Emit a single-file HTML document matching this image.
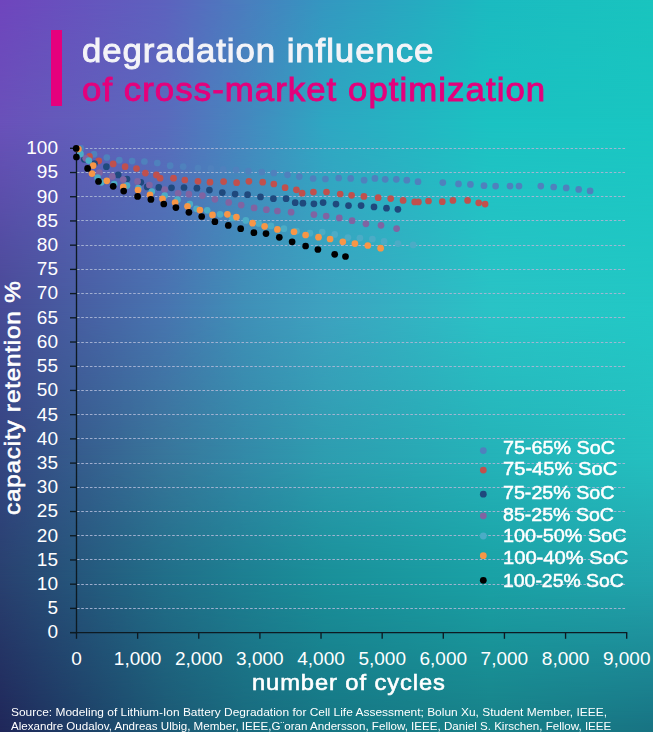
<!DOCTYPE html>
<html><head><meta charset="utf-8">
<style>
html,body{margin:0;padding:0;}
body{width:653px;height:732px;position:relative;overflow:hidden;font-family:"Liberation Sans",sans-serif;}
.bg{position:absolute;left:0;top:0;width:653px;height:732px;}
.bar{position:absolute;left:51px;top:30px;width:11px;height:76px;background:#e5007d;}
.t1,.t2{position:absolute;left:82px;font-weight:normal;font-size:32.5px;line-height:40px;white-space:nowrap;transform-origin:0 0;transform:scaleX(1.07);letter-spacing:0.88px;-webkit-text-stroke:0.9px currentColor;}
.t1{top:30.9px;color:#f4f4f8;}
.t2{top:70.1px;color:#e4007c;}
svg{position:absolute;left:0;top:0;}
.yl{position:absolute;left:10px;width:48px;text-align:right;color:#fff;font-size:19px;line-height:21px;}
.xl{position:absolute;top:648.3px;width:80px;text-align:center;color:#fff;font-size:19px;line-height:21px;}
.xt{position:absolute;left:251.5px;top:668.6px;color:#fff;font-weight:normal;-webkit-text-stroke:0.6px #fff;font-size:22.5px;letter-spacing:0.85px;line-height:28px;white-space:nowrap;transform-origin:0 0;}
.yt{position:absolute;left:0;top:0;color:#fff;font-weight:normal;-webkit-text-stroke:0.6px #fff;font-size:22.5px;letter-spacing:0.85px;line-height:28px;white-space:nowrap;transform-origin:0 0;}
.lg{position:absolute;left:503px;color:#fff;font-weight:normal;-webkit-text-stroke:0.5px #fff;font-size:19px;line-height:21px;white-space:nowrap;transform-origin:0 0;}
.src{position:absolute;left:11px;color:#fff;font-size:11.3px;line-height:14px;white-space:nowrap;transform-origin:0 0;}
</style></head><body>
<div class="bg" style="background:linear-gradient(to right, #20275a 0.00%, #1c5874 25.27%, #196a7e 37.52%, #167684 49.77%, #188088 75.04%, #187383 100.00%)"></div>
<div class="bg" style="background:linear-gradient(to right, #294170 0.00%, #216f89 25.27%, #1d8092 37.52%, #1a909a 49.77%, #1aa2a6 75.04%, #22a5ad 100.00%);-webkit-mask-image:linear-gradient(to bottom, #000 78.55%, transparent 100.00%);mask-image:linear-gradient(to bottom, #000 78.55%, transparent 100.00%)"></div>
<div class="bg" style="background:linear-gradient(to right, #344581 0.00%, #38769b 25.27%, #338aa8 37.52%, #2e9db0 49.77%, #25b3b9 75.04%, #24c0c0 100.00%);-webkit-mask-image:linear-gradient(to bottom, #000 62.16%, transparent 78.55%);mask-image:linear-gradient(to bottom, #000 62.16%, transparent 78.55%)"></div>
<div class="bg" style="background:linear-gradient(to right, #484b97 0.00%, #4874b0 25.27%, #4090b8 37.52%, #3ea2c0 49.77%, #2ac3c6 75.04%, #22c8c5 100.00%);-webkit-mask-image:linear-gradient(to bottom, #000 41.67%, transparent 62.16%);mask-image:linear-gradient(to bottom, #000 41.67%, transparent 62.16%)"></div>
<div class="bg" style="background:linear-gradient(to right, #6a51ba 0.00%, #5a6bbd 25.27%, #4588bf 37.52%, #2ea7c2 49.77%, #1bc2c2 75.04%, #19c6c2 100.00%);-webkit-mask-image:linear-gradient(to bottom, #000 16.39%, transparent 41.67%);mask-image:linear-gradient(to bottom, #000 16.39%, transparent 41.67%)"></div>
<div class="bg" style="background:linear-gradient(to right, #6f45bd 0.00%, #5d62be 25.27%, #4a7dbe 37.52%, #3497c0 49.77%, #1bbac0 75.04%, #19c4be 100.00%);-webkit-mask-image:linear-gradient(to bottom, #000 0.00%, transparent 16.39%);mask-image:linear-gradient(to bottom, #000 0.00%, transparent 16.39%)"></div>
<div class="bar"></div>
<div class="t1" id="t1">degradation influence</div>
<div class="t2" id="t2" style="letter-spacing:0.98px">of cross-market optimization</div>
<svg width="653" height="732" viewBox="0 0 653 732">
<line x1="76.9" y1="608.50" x2="625.9" y2="608.50" stroke="#a9b5d5" stroke-opacity="0.92" stroke-width="1" stroke-dasharray="2.6 1.73"/>
<line x1="76.9" y1="584.50" x2="625.9" y2="584.50" stroke="#a9b5d5" stroke-opacity="0.92" stroke-width="1" stroke-dasharray="2.6 1.73"/>
<line x1="76.9" y1="559.50" x2="625.9" y2="559.50" stroke="#a9b5d5" stroke-opacity="0.92" stroke-width="1" stroke-dasharray="2.6 1.73"/>
<line x1="76.9" y1="535.50" x2="625.9" y2="535.50" stroke="#a9b5d5" stroke-opacity="0.92" stroke-width="1" stroke-dasharray="2.6 1.73"/>
<line x1="76.9" y1="511.50" x2="625.9" y2="511.50" stroke="#a9b5d5" stroke-opacity="0.92" stroke-width="1" stroke-dasharray="2.6 1.73"/>
<line x1="76.9" y1="487.50" x2="625.9" y2="487.50" stroke="#a9b5d5" stroke-opacity="0.92" stroke-width="1" stroke-dasharray="2.6 1.73"/>
<line x1="76.9" y1="463.50" x2="625.9" y2="463.50" stroke="#a9b5d5" stroke-opacity="0.92" stroke-width="1" stroke-dasharray="2.6 1.73"/>
<line x1="76.9" y1="438.50" x2="625.9" y2="438.50" stroke="#a9b5d5" stroke-opacity="0.92" stroke-width="1" stroke-dasharray="2.6 1.73"/>
<line x1="76.9" y1="414.50" x2="625.9" y2="414.50" stroke="#a9b5d5" stroke-opacity="0.92" stroke-width="1" stroke-dasharray="2.6 1.73"/>
<line x1="76.9" y1="390.50" x2="625.9" y2="390.50" stroke="#a9b5d5" stroke-opacity="0.92" stroke-width="1" stroke-dasharray="2.6 1.73"/>
<line x1="76.9" y1="366.50" x2="625.9" y2="366.50" stroke="#a9b5d5" stroke-opacity="0.92" stroke-width="1" stroke-dasharray="2.6 1.73"/>
<line x1="76.9" y1="342.50" x2="625.9" y2="342.50" stroke="#a9b5d5" stroke-opacity="0.92" stroke-width="1" stroke-dasharray="2.6 1.73"/>
<line x1="76.9" y1="317.50" x2="625.9" y2="317.50" stroke="#a9b5d5" stroke-opacity="0.92" stroke-width="1" stroke-dasharray="2.6 1.73"/>
<line x1="76.9" y1="293.50" x2="625.9" y2="293.50" stroke="#a9b5d5" stroke-opacity="0.92" stroke-width="1" stroke-dasharray="2.6 1.73"/>
<line x1="76.9" y1="269.50" x2="625.9" y2="269.50" stroke="#a9b5d5" stroke-opacity="0.92" stroke-width="1" stroke-dasharray="2.6 1.73"/>
<line x1="76.9" y1="245.50" x2="625.9" y2="245.50" stroke="#a9b5d5" stroke-opacity="0.92" stroke-width="1" stroke-dasharray="2.6 1.73"/>
<line x1="76.9" y1="220.50" x2="625.9" y2="220.50" stroke="#a9b5d5" stroke-opacity="0.92" stroke-width="1" stroke-dasharray="2.6 1.73"/>
<line x1="76.9" y1="196.50" x2="625.9" y2="196.50" stroke="#a9b5d5" stroke-opacity="0.92" stroke-width="1" stroke-dasharray="2.6 1.73"/>
<line x1="76.9" y1="172.50" x2="625.9" y2="172.50" stroke="#a9b5d5" stroke-opacity="0.92" stroke-width="1" stroke-dasharray="2.6 1.73"/>
<line x1="76.9" y1="148.50" x2="625.9" y2="148.50" stroke="#a9b5d5" stroke-opacity="0.92" stroke-width="1" stroke-dasharray="2.6 1.73"/>
<line x1="76.5" y1="147.80" x2="76.5" y2="633.30" stroke="#0d1a22" stroke-width="1.35"/>
<line x1="70" y1="632.60" x2="627.2" y2="632.60" stroke="#0d1a22" stroke-width="1.35"/>
<line x1="70" y1="632.60" x2="76.5" y2="632.60" stroke="#0d1a22" stroke-width="1.35"/>
<line x1="70" y1="608.38" x2="76.5" y2="608.38" stroke="#0d1a22" stroke-width="1.35"/>
<line x1="70" y1="584.17" x2="76.5" y2="584.17" stroke="#0d1a22" stroke-width="1.35"/>
<line x1="70" y1="559.96" x2="76.5" y2="559.96" stroke="#0d1a22" stroke-width="1.35"/>
<line x1="70" y1="535.74" x2="76.5" y2="535.74" stroke="#0d1a22" stroke-width="1.35"/>
<line x1="70" y1="511.53" x2="76.5" y2="511.53" stroke="#0d1a22" stroke-width="1.35"/>
<line x1="70" y1="487.31" x2="76.5" y2="487.31" stroke="#0d1a22" stroke-width="1.35"/>
<line x1="70" y1="463.10" x2="76.5" y2="463.10" stroke="#0d1a22" stroke-width="1.35"/>
<line x1="70" y1="438.88" x2="76.5" y2="438.88" stroke="#0d1a22" stroke-width="1.35"/>
<line x1="70" y1="414.67" x2="76.5" y2="414.67" stroke="#0d1a22" stroke-width="1.35"/>
<line x1="70" y1="390.45" x2="76.5" y2="390.45" stroke="#0d1a22" stroke-width="1.35"/>
<line x1="70" y1="366.24" x2="76.5" y2="366.24" stroke="#0d1a22" stroke-width="1.35"/>
<line x1="70" y1="342.02" x2="76.5" y2="342.02" stroke="#0d1a22" stroke-width="1.35"/>
<line x1="70" y1="317.81" x2="76.5" y2="317.81" stroke="#0d1a22" stroke-width="1.35"/>
<line x1="70" y1="293.59" x2="76.5" y2="293.59" stroke="#0d1a22" stroke-width="1.35"/>
<line x1="70" y1="269.38" x2="76.5" y2="269.38" stroke="#0d1a22" stroke-width="1.35"/>
<line x1="70" y1="245.16" x2="76.5" y2="245.16" stroke="#0d1a22" stroke-width="1.35"/>
<line x1="70" y1="220.95" x2="76.5" y2="220.95" stroke="#0d1a22" stroke-width="1.35"/>
<line x1="70" y1="196.73" x2="76.5" y2="196.73" stroke="#0d1a22" stroke-width="1.35"/>
<line x1="70" y1="172.52" x2="76.5" y2="172.52" stroke="#0d1a22" stroke-width="1.35"/>
<line x1="70" y1="148.30" x2="76.5" y2="148.30" stroke="#0d1a22" stroke-width="1.35"/>
<line x1="76.50" y1="632.60" x2="76.50" y2="638.8" stroke="#0d1a22" stroke-width="1.35"/>
<line x1="137.63" y1="632.60" x2="137.63" y2="638.8" stroke="#0d1a22" stroke-width="1.35"/>
<line x1="198.77" y1="632.60" x2="198.77" y2="638.8" stroke="#0d1a22" stroke-width="1.35"/>
<line x1="259.90" y1="632.60" x2="259.90" y2="638.8" stroke="#0d1a22" stroke-width="1.35"/>
<line x1="321.03" y1="632.60" x2="321.03" y2="638.8" stroke="#0d1a22" stroke-width="1.35"/>
<line x1="382.17" y1="632.60" x2="382.17" y2="638.8" stroke="#0d1a22" stroke-width="1.35"/>
<line x1="443.30" y1="632.60" x2="443.30" y2="638.8" stroke="#0d1a22" stroke-width="1.35"/>
<line x1="504.43" y1="632.60" x2="504.43" y2="638.8" stroke="#0d1a22" stroke-width="1.35"/>
<line x1="565.57" y1="632.60" x2="565.57" y2="638.8" stroke="#0d1a22" stroke-width="1.35"/>
<line x1="626.70" y1="632.60" x2="626.70" y2="638.8" stroke="#0d1a22" stroke-width="1.35"/>
<g fill="#4f81bd"><circle cx="80.8" cy="148.4" r="3.35"/><circle cx="94" cy="154.2" r="3.35"/><circle cx="106.8" cy="157.5" r="3.35"/><circle cx="119.3" cy="160.2" r="3.35"/><circle cx="132.1" cy="161.1" r="3.35"/><circle cx="144.4" cy="161.5" r="3.35"/><circle cx="157.3" cy="163" r="3.35"/><circle cx="170.2" cy="165.7" r="3.35"/><circle cx="183.2" cy="166.6" r="3.35"/><circle cx="198" cy="168" r="3.35"/><circle cx="210.9" cy="168.4" r="3.35"/><circle cx="223.2" cy="169.3" r="3.35"/><circle cx="236" cy="169.9" r="3.35"/><circle cx="248.4" cy="171.1" r="3.35"/><circle cx="261.8" cy="172.1" r="3.35"/><circle cx="273.8" cy="173" r="3.35"/><circle cx="287.5" cy="174.8" r="3.35"/><circle cx="299.3" cy="176.6" r="3.35"/><circle cx="313.1" cy="178.5" r="3.35"/><circle cx="325.4" cy="179" r="3.35"/><circle cx="338.7" cy="178" r="3.35"/><circle cx="350.7" cy="178.4" r="3.35"/><circle cx="364.1" cy="180.2" r="3.35"/><circle cx="374.9" cy="178.4" r="3.35"/><circle cx="385.2" cy="179.3" r="3.35"/><circle cx="396.3" cy="179.3" r="3.35"/><circle cx="406.8" cy="180.2" r="3.35"/><circle cx="418" cy="181.7" r="3.35"/><circle cx="442.8" cy="182.6" r="3.35"/><circle cx="458.5" cy="183.9" r="3.35"/><circle cx="470.4" cy="184.4" r="3.35"/><circle cx="484" cy="185.7" r="3.35"/><circle cx="495.6" cy="186.1" r="3.35"/><circle cx="510" cy="186.1" r="3.35"/><circle cx="519" cy="186.1" r="3.35"/><circle cx="540.8" cy="186.1" r="3.35"/><circle cx="553.7" cy="187" r="3.35"/><circle cx="566.2" cy="187.9" r="3.35"/><circle cx="578.7" cy="189.4" r="3.35"/><circle cx="590.1" cy="190.9" r="3.35"/></g>
<g fill="#c0504d"><circle cx="89.5" cy="156.4" r="3.35"/><circle cx="98.8" cy="160.8" r="3.35"/><circle cx="113.2" cy="163.9" r="3.35"/><circle cx="125.1" cy="166.7" r="3.35"/><circle cx="136.5" cy="168.5" r="3.35"/><circle cx="145.4" cy="173.1" r="3.35"/><circle cx="156.4" cy="174.9" r="3.35"/><circle cx="160.1" cy="178.2" r="3.35"/><circle cx="173.5" cy="178.2" r="3.35"/><circle cx="184.8" cy="180" r="3.35"/><circle cx="198" cy="181.3" r="3.35"/><circle cx="210" cy="182.2" r="3.35"/><circle cx="223.6" cy="181.6" r="3.35"/><circle cx="236.6" cy="182.7" r="3.35"/><circle cx="248.9" cy="181.3" r="3.35"/><circle cx="262.7" cy="182.2" r="3.35"/><circle cx="273.8" cy="184" r="3.35"/><circle cx="285.1" cy="187.7" r="3.35"/><circle cx="296.4" cy="189.8" r="3.35"/><circle cx="302.1" cy="193.2" r="3.35"/><circle cx="313.4" cy="192.1" r="3.35"/><circle cx="326.5" cy="192" r="3.35"/><circle cx="340.2" cy="194" r="3.35"/><circle cx="351.6" cy="195.3" r="3.35"/><circle cx="363.9" cy="196.4" r="3.35"/><circle cx="378.2" cy="197.7" r="3.35"/><circle cx="390.7" cy="198.6" r="3.35"/><circle cx="403.1" cy="200.4" r="3.35"/><circle cx="414.7" cy="201.9" r="3.35"/><circle cx="418.4" cy="201.9" r="3.35"/><circle cx="428.5" cy="201" r="3.35"/><circle cx="442.3" cy="201.7" r="3.35"/><circle cx="452.9" cy="200.4" r="3.35"/><circle cx="467.6" cy="200.4" r="3.35"/><circle cx="478.7" cy="202.8" r="3.35"/><circle cx="485.1" cy="204.1" r="3.35"/></g>
<g fill="#1f497d"><circle cx="84.3" cy="159.3" r="3.35"/><circle cx="94.5" cy="163.5" r="3.35"/><circle cx="106.4" cy="166.7" r="3.35"/><circle cx="118.2" cy="174.9" r="3.35"/><circle cx="127" cy="179" r="3.35"/><circle cx="140.8" cy="182.3" r="3.35"/><circle cx="147.2" cy="186.9" r="3.35"/><circle cx="158.8" cy="187.4" r="3.35"/><circle cx="171.5" cy="187.8" r="3.35"/><circle cx="184" cy="187.5" r="3.35"/><circle cx="196.9" cy="188.2" r="3.35"/><circle cx="209.4" cy="190.1" r="3.35"/><circle cx="222.3" cy="192.6" r="3.35"/><circle cx="235.1" cy="194.1" r="3.35"/><circle cx="247.6" cy="194.7" r="3.35"/><circle cx="260.5" cy="196.9" r="3.35"/><circle cx="273.4" cy="198.7" r="3.35"/><circle cx="286.1" cy="198.7" r="3.35"/><circle cx="295.2" cy="202.7" r="3.35"/><circle cx="302.9" cy="203.2" r="3.35"/><circle cx="313.9" cy="203.8" r="3.35"/><circle cx="323.1" cy="202.6" r="3.35"/><circle cx="336" cy="204.1" r="3.35"/><circle cx="348.5" cy="205.6" r="3.35"/><circle cx="361.1" cy="205.6" r="3.35"/><circle cx="374" cy="206.9" r="3.35"/><circle cx="386.5" cy="208.2" r="3.35"/><circle cx="397.9" cy="209.3" r="3.35"/></g>
<g fill="#8064a2"><circle cx="85.7" cy="158.3" r="3.35"/><circle cx="99.4" cy="172.7" r="3.35"/><circle cx="112.3" cy="176.4" r="3.35"/><circle cx="123.3" cy="179.5" r="3.35"/><circle cx="137.6" cy="181.4" r="3.35"/><circle cx="149.4" cy="185" r="3.35"/><circle cx="164.7" cy="189.6" r="3.35"/><circle cx="178.1" cy="193.3" r="3.35"/><circle cx="188.9" cy="194.2" r="3.35"/><circle cx="202.4" cy="195.6" r="3.35"/><circle cx="214.9" cy="199.3" r="3.35"/><circle cx="228.7" cy="202.4" r="3.35"/><circle cx="241.2" cy="205.1" r="3.35"/><circle cx="254.1" cy="207.9" r="3.35"/><circle cx="266.4" cy="209.7" r="3.35"/><circle cx="277.4" cy="211" r="3.35"/><circle cx="291.1" cy="212.2" r="3.35"/><circle cx="313.9" cy="214.6" r="3.35"/><circle cx="326.2" cy="216.1" r="3.35"/><circle cx="339.3" cy="217.9" r="3.35"/><circle cx="352.1" cy="220.7" r="3.35"/><circle cx="365.9" cy="223.8" r="3.35"/><circle cx="381" cy="225.3" r="3.35"/><circle cx="396.6" cy="228.6" r="3.35"/></g>
<g fill="#4bacc6"><circle cx="80.5" cy="153.9" r="3.35"/><circle cx="88.8" cy="160.6" r="3.35"/><circle cx="97.6" cy="177.7" r="3.35"/><circle cx="101.2" cy="182.3" r="3.35"/><circle cx="114.1" cy="184.1" r="3.35"/><circle cx="127" cy="185.6" r="3.35"/><circle cx="138.4" cy="188.2" r="3.35"/><circle cx="151.8" cy="191.5" r="3.35"/><circle cx="164.7" cy="195.5" r="3.35"/><circle cx="177.5" cy="199.7" r="3.35"/><circle cx="189.8" cy="204.1" r="3.35"/><circle cx="196.5" cy="208.8" r="3.35"/><circle cx="207.2" cy="210.3" r="3.35"/><circle cx="220.1" cy="214.3" r="3.35"/><circle cx="232.4" cy="218" r="3.35"/><circle cx="245.8" cy="220.4" r="3.35"/><circle cx="258.7" cy="223.5" r="3.35"/><circle cx="271" cy="225.9" r="3.35"/><circle cx="283.9" cy="228.7" r="3.35"/><circle cx="296.6" cy="231.1" r="3.35"/><circle cx="309.9" cy="233.2" r="3.35"/><circle cx="322.2" cy="232.1" r="3.35"/><circle cx="334.7" cy="234.4" r="3.35"/><circle cx="347.9" cy="237.6" r="3.35"/><circle cx="359.9" cy="238.1" r="3.35"/><circle cx="372.4" cy="239" r="3.35"/><circle cx="384.1" cy="241.4" r="3.35"/><circle cx="397.9" cy="243.6" r="3.35"/><circle cx="413.2" cy="244.9" r="3.35"/></g>
<g fill="#f79646"><circle cx="78.4" cy="149" r="3.35"/><circle cx="93.2" cy="165.6" r="3.35"/><circle cx="92" cy="173.6" r="3.35"/><circle cx="106.8" cy="180.8" r="3.35"/><circle cx="123.3" cy="186.9" r="3.35"/><circle cx="138" cy="190" r="3.35"/><circle cx="150" cy="194.8" r="3.35"/><circle cx="162.5" cy="198.8" r="3.35"/><circle cx="175.1" cy="202.5" r="3.35"/><circle cx="187.5" cy="206.3" r="3.35"/><circle cx="199.9" cy="210.1" r="3.35"/><circle cx="212.5" cy="214.9" r="3.35"/><circle cx="227.4" cy="214.3" r="3.35"/><circle cx="236.4" cy="217.1" r="3.35"/><circle cx="252.6" cy="223.2" r="3.35"/><circle cx="264.6" cy="226.3" r="3.35"/><circle cx="277.4" cy="229.4" r="3.35"/><circle cx="294" cy="231.75" r="3.35"/><circle cx="305.6" cy="235" r="3.35"/><circle cx="318.5" cy="237.2" r="3.35"/><circle cx="330.1" cy="239" r="3.35"/><circle cx="342.8" cy="241.8" r="3.35"/><circle cx="354.9" cy="243.6" r="3.35"/><circle cx="367.8" cy="245.5" r="3.35"/><circle cx="380.6" cy="248.2" r="3.35"/></g>
<g fill="#000000"><circle cx="76.2" cy="148.4" r="3.35"/><circle cx="76.4" cy="157" r="3.35"/><circle cx="87.6" cy="168.4" r="3.35"/><circle cx="98.5" cy="181.4" r="3.35"/><circle cx="113.2" cy="186.3" r="3.35"/><circle cx="123.7" cy="191.1" r="3.35"/><circle cx="137.6" cy="196.4" r="3.35"/><circle cx="150.9" cy="199.4" r="3.35"/><circle cx="163.8" cy="204" r="3.35"/><circle cx="175.9" cy="207.6" r="3.35"/><circle cx="188.9" cy="212.3" r="3.35"/><circle cx="201.7" cy="216.5" r="3.35"/><circle cx="214.9" cy="221.7" r="3.35"/><circle cx="228.3" cy="225.4" r="3.35"/><circle cx="240.7" cy="228.7" r="3.35"/><circle cx="253.9" cy="232.7" r="3.35"/><circle cx="266" cy="233.6" r="3.35"/><circle cx="279.3" cy="237.3" r="3.35"/><circle cx="292.1" cy="241.85" r="3.35"/><circle cx="305.6" cy="246" r="3.35"/><circle cx="317.9" cy="249.5" r="3.35"/><circle cx="334.7" cy="254.3" r="3.35"/><circle cx="345.5" cy="256.5" r="3.35"/></g>
<circle cx="483.3" cy="450.6" r="3.4" fill="#4f81bd"/>
<circle cx="483.3" cy="470.1" r="3.4" fill="#c0504d"/>
<circle cx="483.3" cy="494.2" r="3.4" fill="#1f497d"/>
<circle cx="483.3" cy="515.8" r="3.4" fill="#8064a2"/>
<circle cx="483.3" cy="536" r="3.4" fill="#4bacc6"/>
<circle cx="483.3" cy="555.7" r="3.4" fill="#f79646"/>
<circle cx="483.3" cy="580.3" r="3.4" fill="#000000"/>
</svg>
<div class="yl" style="top:621.4px">0</div>
<div class="yl" style="top:597.2px">5</div>
<div class="yl" style="top:573.0px">10</div>
<div class="yl" style="top:548.8px">15</div>
<div class="yl" style="top:524.5px">20</div>
<div class="yl" style="top:500.3px">25</div>
<div class="yl" style="top:476.1px">30</div>
<div class="yl" style="top:451.9px">35</div>
<div class="yl" style="top:427.7px">40</div>
<div class="yl" style="top:403.5px">45</div>
<div class="yl" style="top:379.3px">50</div>
<div class="yl" style="top:355.0px">55</div>
<div class="yl" style="top:330.8px">60</div>
<div class="yl" style="top:306.6px">65</div>
<div class="yl" style="top:282.4px">70</div>
<div class="yl" style="top:258.2px">75</div>
<div class="yl" style="top:234.0px">80</div>
<div class="yl" style="top:209.7px">85</div>
<div class="yl" style="top:185.5px">90</div>
<div class="yl" style="top:161.3px">95</div>
<div class="yl" style="top:137.1px">100</div>
<div class="xl" style="left:36.5px">0</div>
<div class="xl" style="left:97.6px">1,000</div>
<div class="xl" style="left:158.8px">2,000</div>
<div class="xl" style="left:219.9px">3,000</div>
<div class="xl" style="left:281.0px">4,000</div>
<div class="xl" style="left:342.2px">5,000</div>
<div class="xl" style="left:403.3px">6,000</div>
<div class="xl" style="left:464.4px">7,000</div>
<div class="xl" style="left:525.6px">8,000</div>
<div class="xl" style="left:586.7px">9,000</div>
<div class="xt" id="xt" style="transform:scaleX(1.055)">number of cycles</div>
<div class="yt" id="yt" style="letter-spacing:0.74px;transform:translate(-1px,515px) rotate(-90deg) scaleX(1.079)">capacity retention %</div>
<div class="lg" style="top:437.0px;transform:scaleX(1.04)">75-65% SoC</div>
<div class="lg" style="top:458.0px;transform:scaleX(1.06)">75-45% SoC</div>
<div class="lg" style="top:481.9px;transform:scaleX(1.035)">75-25% SoC</div>
<div class="lg" style="top:504.0px;transform:scaleX(1.03)">85-25% SoC</div>
<div class="lg" style="top:524.6px;transform:scaleX(1.045)">100-50% SoC</div>
<div class="lg" style="top:547.2px;transform:scaleX(1.06)">100-40% SoC</div>
<div class="lg" style="top:570.1px;transform:scaleX(1.022)">100-25% SoC</div>
<div class="src" id="s1" style="top:705px;transform:scaleX(1.057)">Source: Modeling of Lithium-Ion Battery Degradation for Cell Life Assessment; Bolun Xu, Student Member, IEEE,</div>
<div class="src" id="s2" style="top:719px;transform:scaleX(1.025)">Alexandre Oudalov, Andreas Ulbig, Member, IEEE,G¨oran Andersson, Fellow, IEEE, Daniel S. Kirschen, Fellow, IEEE</div>
</body></html>
